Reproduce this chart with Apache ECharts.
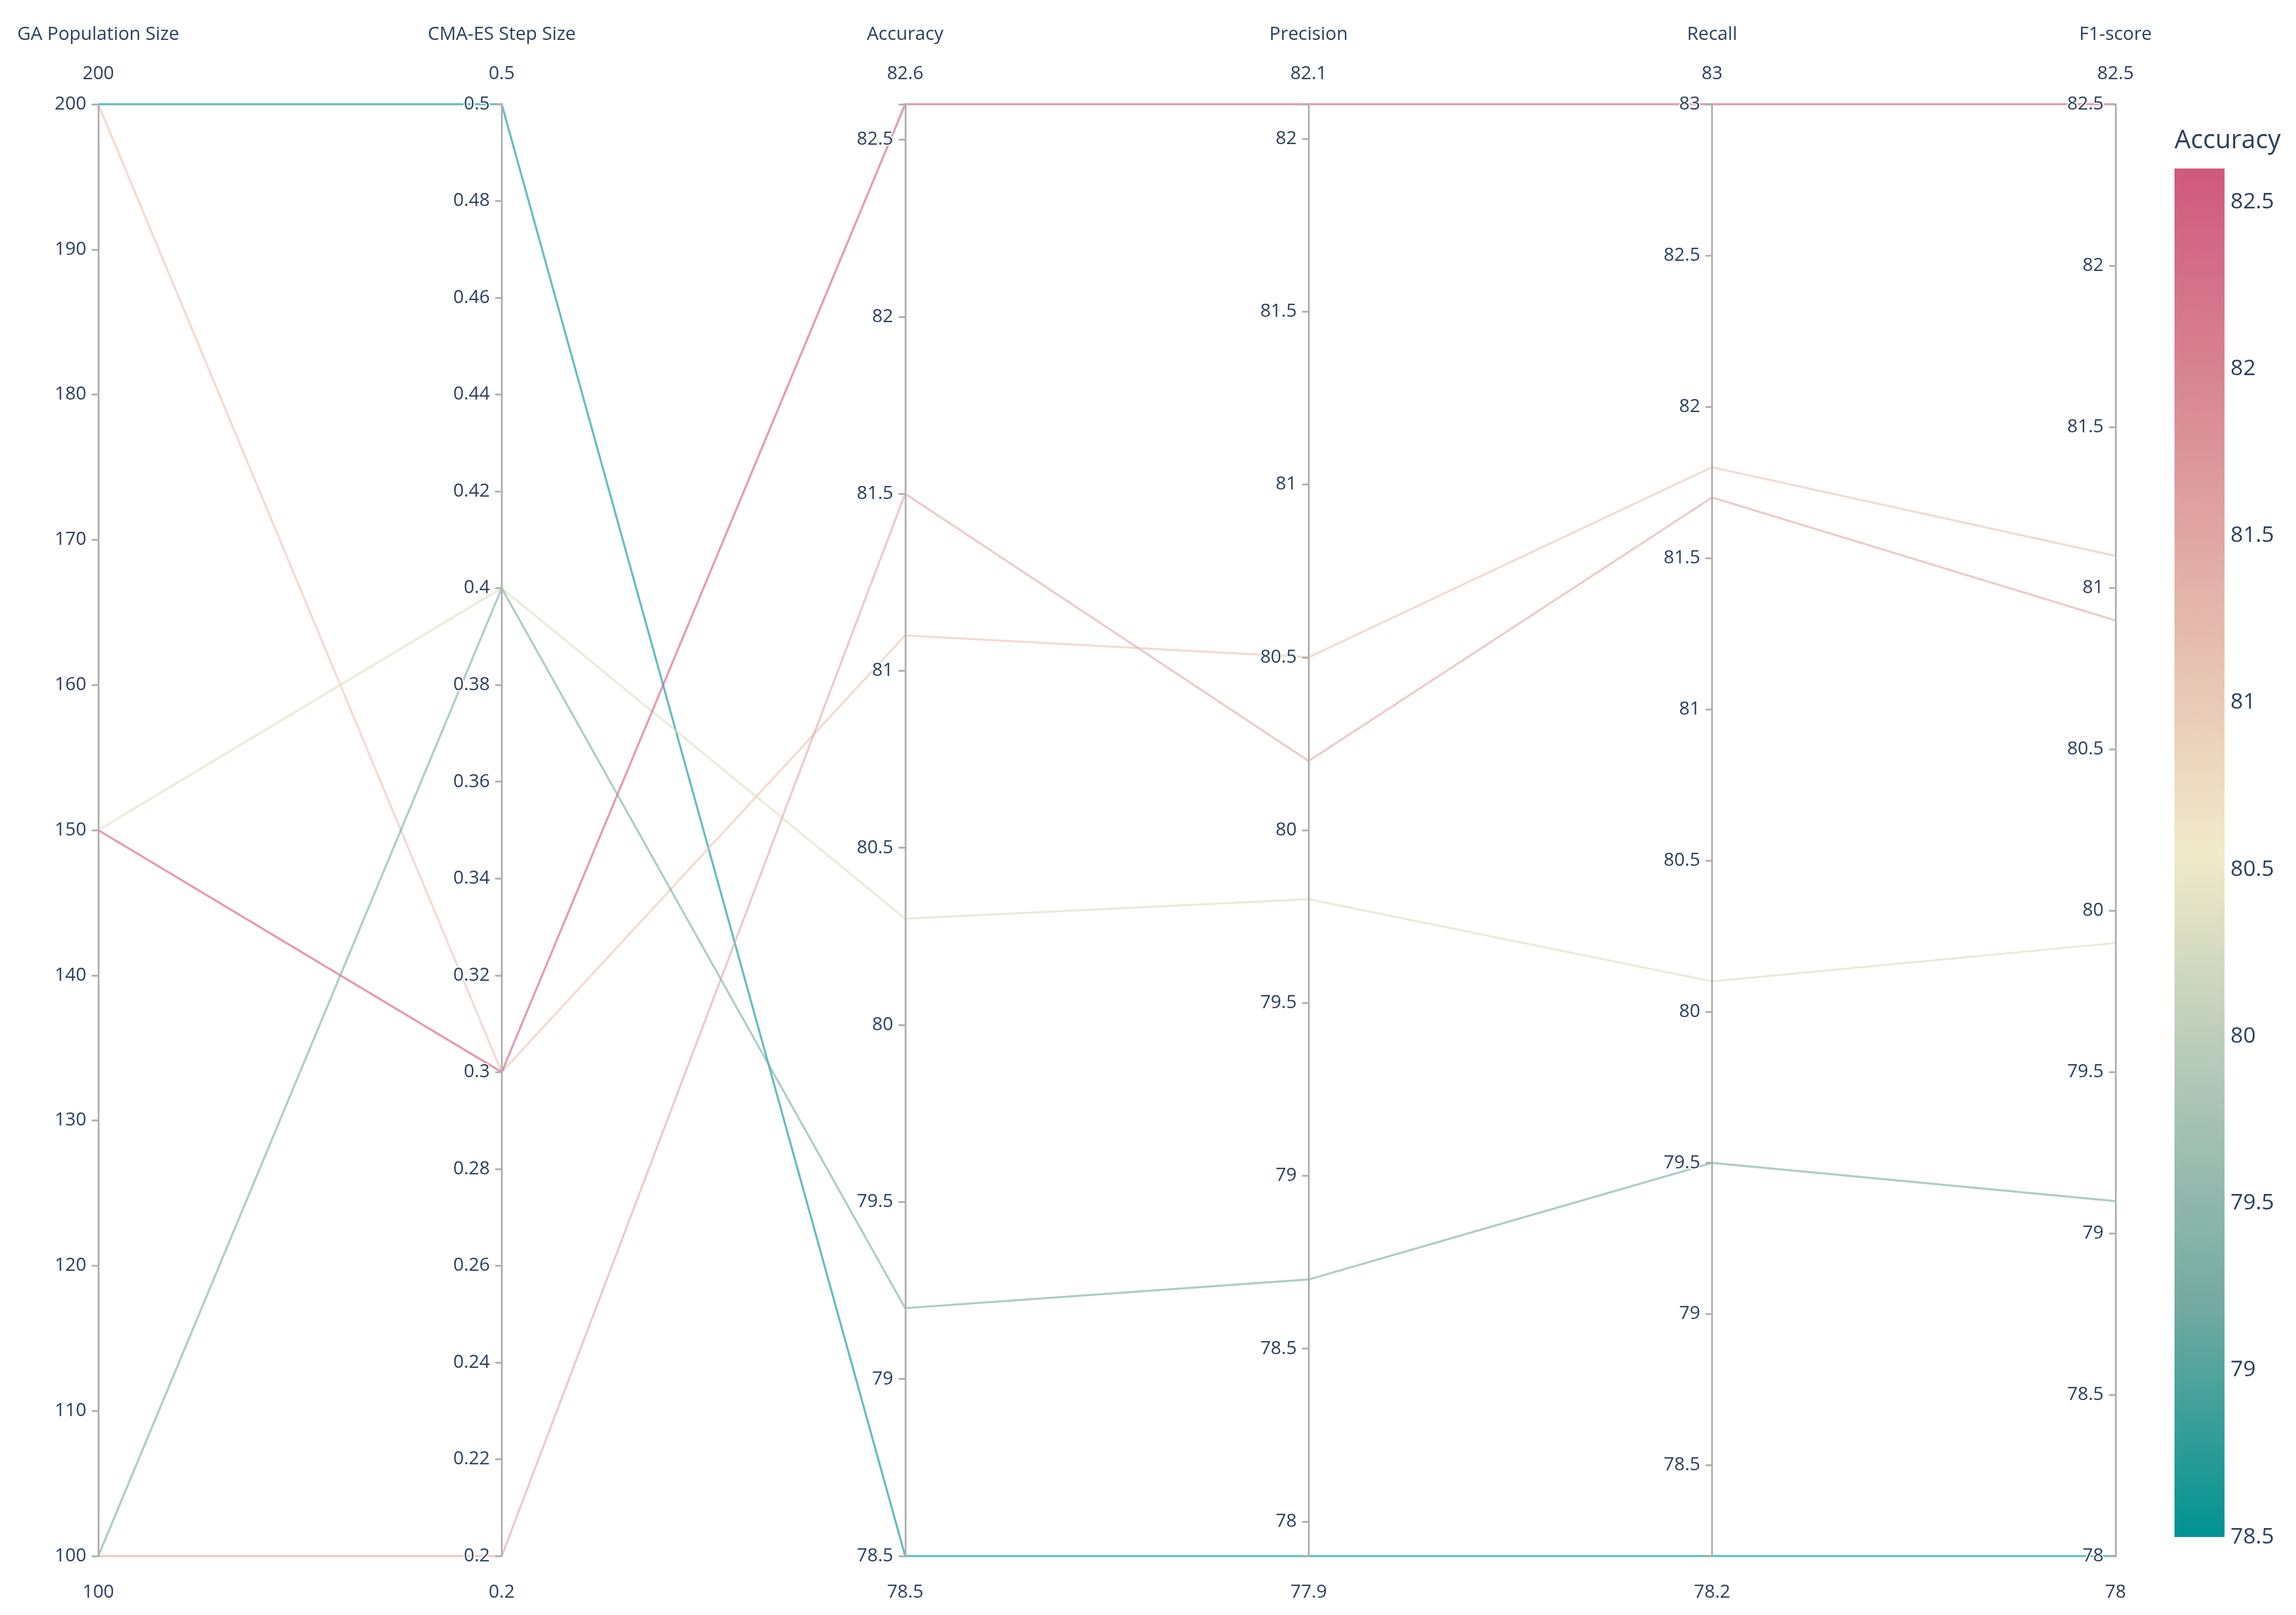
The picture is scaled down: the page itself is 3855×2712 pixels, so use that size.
<!DOCTYPE html>
<html>
<head>
<meta charset="utf-8">
<script src="https://cdn.jsdelivr.net/npm/echarts@6/dist/echarts.min.js"></script>
<style>
  html, body { margin: 0; padding: 0; background: #fff; }
  #chart { width: 3855px; height: 2712px; }
</style>
</head>
<body>
<div id="chart"></div>
<script>
// ---- data ----
const dimNames = ['GA Population Size', 'CMA-ES Step Size', 'Accuracy', 'Precision', 'Recall', 'F1-score'];
const gaPop     = [200, 200, 150, 150, 100, 100];
const cmaStep   = [0.5, 0.3, 0.4, 0.3, 0.4, 0.2];
const accuracy  = [78.5, 81.1, 80.3, 82.6, 79.2, 81.5];
const precision = [77.9, 80.5, 79.8, 82.1, 78.7, 80.2];
const recall    = [78.2, 81.8, 80.1, 83.0, 79.5, 81.7];
const f1score   = [78.0, 81.1, 79.9, 82.5, 79.1, 80.9];
const axisMin   = [100, 0.2, 78.5, 77.9, 78.2, 78.0];
const axisMax   = [200, 0.5, 82.6, 82.1, 83.0, 82.5];
const tickStep  = [10, 0.02, 0.5, 0.5, 0.5, 0.5];
const colorMin = 78.5, colorMax = 82.6, colorStep = 0.5;
const tealrose = ['rgb(0,147,146)', 'rgb(114,170,161)', 'rgb(177,199,184)', 'rgb(241,234,200)',
                  'rgb(229,185,173)', 'rgb(217,137,148)', 'rgb(208,88,126)'];

// ---- build ----
const rows = gaPop.map((_, i) => [gaPop[i], cmaStep[i], accuracy[i], precision[i], recall[i], f1score[i]]);
const TXT = '#2a3f5f';
const FONT = 'Open Sans';
const fmt = v => String(+(+v).toFixed(6));
const isMult = (v, s) => Math.abs(v / s - Math.round(v / s)) < 1e-6;

const layoutBox = { left: 165, right: 303, top: 175, bottom: 99 };

const axesTop = dimNames.map((n, i) => ({
  dim: i,
  parallelIndex: 0,
  type: 'value',
  min: axisMin[i],
  max: axisMax[i],
  splitNumber: Math.round((axisMax[i] - axisMin[i]) / tickStep[i]),
  minInterval: tickStep[i],
  maxInterval: tickStep[i],
  name: '{t|' + n + '}\n{v|' + fmt(axisMax[i]) + '}',
  nameLocation: 'end',
  nameGap: 31,
  nameTextStyle: {
    rich: {
      t: { fontSize: 31, color: TXT, fontFamily: FONT, lineHeight: 92 },
      v: { fontSize: 31, color: TXT, fontFamily: FONT, lineHeight: 40 }
    }
  },
  axisLine: { show: true, lineStyle: { color: '#b0b0b0', width: 3 } },
  axisTick: { show: true, length: -11, lineStyle: { color: '#b0b0b0', width: 3 } },
  splitLine: { show: false },
  axisLabel: {
    show: true,
    margin: -20,
    align: 'right',
    fontSize: 31,
    fontFamily: FONT,
    color: TXT,
    textBorderColor: '#fff',
    textBorderWidth: 4,
    formatter: v => isMult(v, tickStep[i]) ? fmt(v) : ''
  }
}));

const axesBottom = dimNames.map((n, i) => ({
  dim: i,
  parallelIndex: 1,
  type: 'value',
  min: axisMin[i],
  max: axisMax[i],
  name: fmt(axisMin[i]),
  nameLocation: 'start',
  nameGap: 46,
  nameTextStyle: { fontSize: 31, color: TXT, fontFamily: FONT },
  axisLine: { show: false },
  axisTick: { show: false },
  axisLabel: { show: false },
  splitLine: { show: false }
}));

const chart = echarts.init(document.getElementById('chart'), null, { renderer: 'canvas' });
chart.setOption({
  backgroundColor: '#fff',
  animation: false,
  textStyle: { fontFamily: FONT },
  title: {
    text: 'Accuracy',
    left: 3646,
    top: 210,
    textStyle: { fontSize: 43, fontWeight: 'normal', color: TXT, fontFamily: FONT }
  },
  parallel: [
    Object.assign({ layout: 'horizontal', parallelAxisDefault: { type: 'value' } }, layoutBox),
    Object.assign({ layout: 'horizontal', parallelAxisDefault: { type: 'value' } }, layoutBox)
  ],
  parallelAxis: axesTop.concat(axesBottom),
  visualMap: {
    type: 'continuous',
    show: false,
    seriesIndex: 0,
    dimension: 2,
    min: colorMin,
    max: colorMax,
    inRange: { color: tealrose }
  },
  grid: { left: 3651, top: 283, width: 84, height: 2298 },
  xAxis: { type: 'value', min: 0, max: 1, show: false },
  yAxis: {
    type: 'value',
    position: 'right',
    min: colorMin,
    max: colorMax,
    interval: colorStep,
    axisLine: { show: false },
    axisTick: { show: false },
    splitLine: { show: false },
    axisLabel: {
      margin: 10,
      fontSize: 37,
      fontFamily: FONT,
      color: TXT,
      formatter: v => isMult(v, colorStep) ? fmt(v) : ''
    }
  },
  series: [
    {
      type: 'parallel',
      parallelIndex: 0,
      smooth: false,
      lineStyle: { width: 3.5, opacity: 0.6 },
      emphasis: { disabled: true },
      data: rows
    },
    {
      type: 'custom',
      xAxisIndex: 0,
      yAxisIndex: 0,
      silent: true,
      data: [[0, colorMin, colorMax]],
      renderItem: function (params, api) {
        const p0 = api.coord([0, api.value(1)]);
        const p1 = api.coord([1, api.value(2)]);
        const stops = tealrose.map((c, k) => ({ offset: k / (tealrose.length - 1), color: c }));
        return {
          type: 'rect',
          shape: { x: p0[0], y: p1[1], width: p1[0] - p0[0], height: p0[1] - p1[1] },
          style: { fill: { type: 'linear', x: 0, y: 1, x2: 0, y2: 0, colorStops: stops } }
        };
      }
    }
  ]
});
</script>
</body>
</html>
